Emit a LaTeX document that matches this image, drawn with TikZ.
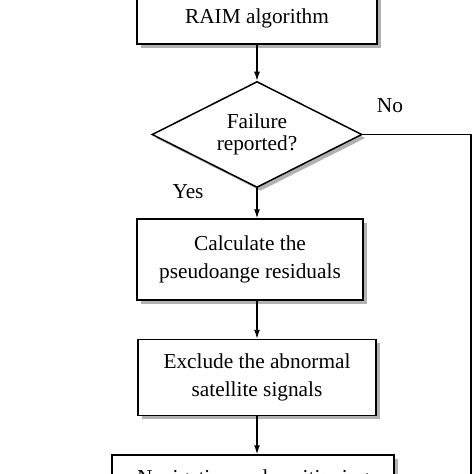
\documentclass[tikz,border=0pt]{standalone}
\usepackage{fontspec}
\setmainfont{Liberation Serif}
\usetikzlibrary{arrows.meta, positioning, shapes.geometric, shadows}

\begin{document}
\begin{tikzpicture}[x=1pt, y=-1pt, node distance=38pt,
    box/.style={rectangle, draw, line width=1.5pt, fill=white, minimum height=81pt, align=center,
      font=\fontsize{21.3}{28}\selectfont,
      drop shadow={shadow xshift=3.5pt, shadow yshift=-3.5pt, fill=black!30, opacity=1}},
    decision/.style={diamond, draw, line width=1.5pt, fill=white, aspect=2, inner sep=0pt,
      minimum width=210pt, minimum height=106pt, align=center,
      font=\fontsize{21.3}{21.5}\selectfont,
      drop shadow={shadow xshift=3.5pt, shadow yshift=-3.5pt, fill=black!30, opacity=1}},
    lbl/.style={font=\fontsize{21.3}{26}\selectfont},
    arr/.style={-{Latex[length=9pt, width=6pt]}, line width=1.3pt}]
    \clip (0,0) rectangle (474,474);
    \node[box, minimum width=240pt, minimum height=52pt] (raim) at (257,18) {RAIM algorithm};
    \node[decision, below=36pt of raim] (fail) {Failure\\reported?};
    \node[box, minimum width=226pt, below=30pt of fail, xshift=-7pt] (calc) {Calculate the\\pseudoange residuals};
    \node[box, minimum width=238pt, minimum height=76pt, below=of calc, xshift=7pt] (excl) {Exclude the abnormal\\satellite signals};
    \node[box, minimum width=282pt, below=of excl, xshift=-4pt] (navi) {Navigation and positioning\\\strut};
    \node[lbl] (no) at (390,106) {No};
    \node[lbl] (yes) at (188,192) {Yes};
    \coordinate (down) at (471,490);
    \draw[arr] (raim) -- (fail);
    \draw[arr] (fail.south) -- (fail.south |- calc.north);
    \draw[arr] (fail.south |- calc.south) -- (fail.south |- excl.north);
    \draw[arr] (fail.south |- excl.south) -- (fail.south |- navi.north);
    \draw[line width=1.3pt] (fail.east) -| (down);
\end{tikzpicture}
\end{document}
